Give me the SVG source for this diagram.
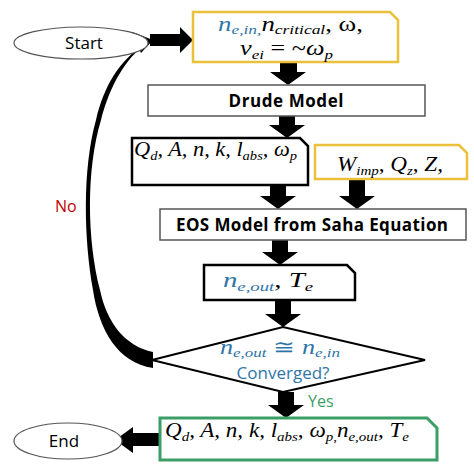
<svg xmlns="http://www.w3.org/2000/svg" width="474" height="465" viewBox="0 0 474 465">
<style>
.bg{fill:#fff}
.term{fill:#fff;stroke:#555;stroke-width:1.2}
.proc{fill:#fff;stroke:#555;stroke-width:1.5}
.ybox{fill:#fff;stroke:#EBC03A;stroke-width:2.5}
.kbox{fill:#fff;stroke:#000;stroke-width:2.5}
.gbox{fill:#fff;stroke:#3A9E66;stroke-width:3}
.arr{fill:#000}
.sans{font-family:"Open Sans","Liberation Sans",sans-serif;fill:#000}
.bold{font-weight:bold}
.math{font-family:"Liberation Serif","DejaVu Serif",serif;font-style:italic;fill:#000}
.blue{fill:#2F75A8}
.sub{font-size:13px}
</style>
<rect class="bg" x="0" y="0" width="474" height="465"/>

<g id="connectors">
  <path class="arr" d="M150,34 H180 V27 L193,40 L180,53 V46 H150 Z"/>
  <path class="arr" d="M280,62 H297 V72 H306 L288,85 L270,72 H280 Z"/>
  <path class="arr" d="M279,116 H295 V125 H305 L287,138 L269,125 H279 Z"/>
  <path class="arr" d="M270,185 H286 V196 H296 L278,209 L260,196 H270 Z"/>
  <path class="arr" d="M349,179 H365 V196 H375 L357,209 L339,196 H349 Z"/>
  <path class="arr" d="M272,240 H288 V252 H298 L280,265 L262,252 H272 Z"/>
  <path class="arr" d="M275,300 H291 V314 H301 L283,327 L265,314 H275 Z"/>
  <path class="arr" d="M278,392 H294 V405 H304 L286,418 L268,405 H278 Z"/>
  <path class="arr" d="M161,433 V446 H133 V453 L115,440 L133,427 V433 Z"/>
  <path class="arr" d="M153,368 C118,363 99,330 93,290 C84,240 82,170 96,120 C104,85 120,62 138,49 L146,44 C126,58 110,85 101,120 C86,170 87,240 100,290 C107,323 125,346 153,352 Z"/>
  <polygon class="arr" points="132,32 153,40 141,53"/>
  <text class="sans" x="55" y="212" font-size="16" style="fill:#C00000">No</text>
  <text class="sans" x="308" y="407" font-size="16" style="fill:#3A9E66">Yes</text>
</g>

<g id="start">
  <ellipse class="term" cx="81" cy="43" rx="67" ry="16"/>
  <text class="sans" x="84" y="49" font-size="17" text-anchor="middle">Start</text>
</g>

<g id="inputs">
  <path class="ybox" d="M193,12 H390 L398,20 V62 H193 Z"/>
  <text class="math" x="218" y="31" font-size="20" textLength="145" lengthAdjust="spacingAndGlyphs"><tspan class="blue">n</tspan><tspan class="blue sub" dy="3">e,in,</tspan><tspan dy="-3">n</tspan><tspan class="sub" dy="3">critical</tspan><tspan dy="-3" font-style="normal">, ω,</tspan></text>
  <text class="math" x="240" y="55" font-size="20" textLength="93" lengthAdjust="spacingAndGlyphs">v<tspan class="sub" dy="4">ei</tspan><tspan dy="-4" font-style="normal"> = ~</tspan>ω<tspan class="sub" dy="4">p</tspan></text>
</g>

<g id="drude">
  <rect class="proc" x="148" y="85" width="277" height="31"/>
  <text class="sans bold" x="286" y="107" font-size="17" text-anchor="middle" textLength="115">Drude Model</text>
</g>

<g id="drude-out">
  <path class="kbox" d="M132,138 H300 L308,146 V185 H132 Z"/>
  <text class="math" x="134" y="156" font-size="20" textLength="163" lengthAdjust="spacingAndGlyphs">Q<tspan class="sub" dy="4">d</tspan><tspan dy="-4">, A, n, k, l</tspan><tspan class="sub" dy="4">abs</tspan><tspan dy="-4">, ω</tspan><tspan class="sub" dy="4">p</tspan></text>
</g>

<g id="impurity">
  <path class="ybox" d="M315,145 H459 L467,153 V179 H315 Z"/>
  <text class="math" x="337" y="171" font-size="20" textLength="106" lengthAdjust="spacingAndGlyphs">W<tspan class="sub" dy="4">imp</tspan><tspan dy="-4">, Q</tspan><tspan class="sub" dy="4">z</tspan><tspan dy="-4">, Z,</tspan></text>
</g>

<g id="eos">
  <rect class="proc" x="160" y="209" width="306" height="31"/>
  <text class="sans bold" x="312" y="231" font-size="17" text-anchor="middle" textLength="272">EOS Model from Saha Equation</text>
</g>

<g id="eos-out">
  <path class="kbox" d="M204,265 H347 L355,273 V300 H204 Z"/>
  <text class="math" x="223" y="287" font-size="20" textLength="90" lengthAdjust="spacingAndGlyphs"><tspan class="blue">n</tspan><tspan class="blue sub" dy="4">e,out</tspan><tspan dy="-4">, T</tspan><tspan class="sub" dy="4">e</tspan></text>
</g>

<g id="decision">
  <polygon points="152,360 283,327 425,360 283,392" fill="#fff" stroke="#000" stroke-width="2"/>
  <text class="math blue" x="220" y="354" font-size="20" textLength="120" lengthAdjust="spacingAndGlyphs">n<tspan class="sub" dy="3">e,out</tspan><tspan dy="-3" font-style="normal"> ≅ </tspan>n<tspan class="sub" dy="3">e,in</tspan></text>
  <text class="sans blue" x="283" y="379" font-size="17" text-anchor="middle">Converged?</text>
</g>

<g id="results">
  <path class="gbox" d="M160,418 H427 L437,428 V460 H160 Z"/>
  <text class="math" x="165" y="437" font-size="20" textLength="244" lengthAdjust="spacingAndGlyphs">Q<tspan class="sub" dy="4">d</tspan><tspan dy="-4">, A, n, k, l</tspan><tspan class="sub" dy="4">abs</tspan><tspan dy="-4">, ω</tspan><tspan class="sub" dy="4">p,</tspan><tspan dy="-4">n</tspan><tspan class="sub" dy="4">e,out</tspan><tspan dy="-4">, T</tspan><tspan class="sub" dy="4">e</tspan></text>
</g>

<g id="end">
  <ellipse class="term" cx="68" cy="441" rx="54" ry="18"/>
  <text class="sans" x="64" y="447" font-size="17" text-anchor="middle">End</text>
</g>
</svg>
